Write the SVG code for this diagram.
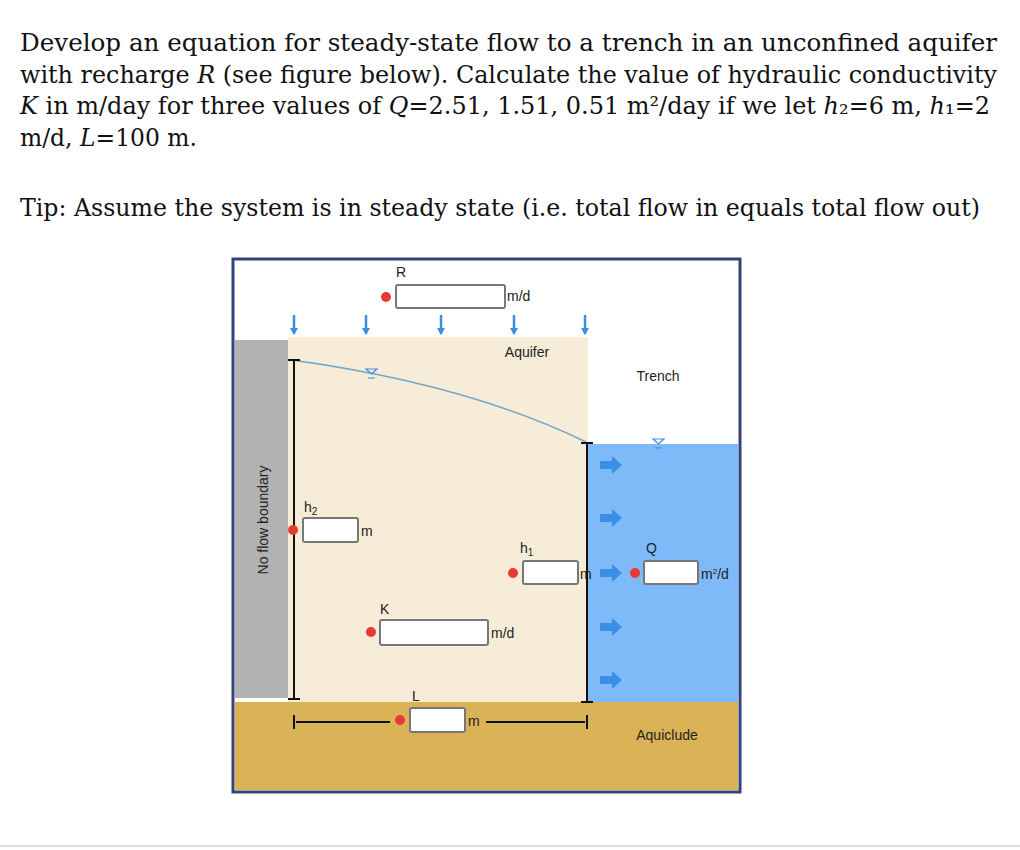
<svg xmlns="http://www.w3.org/2000/svg" width="1020" height="850" viewBox="0 0 1020 850">
<style>
.t{font-family:"DejaVu Serif","Liberation Serif",serif;font-size:24px;fill:#111}
.s{font-family:"Liberation Sans",Arial,sans-serif;font-size:14px;fill:#222}
.box{fill:#fff;stroke:#777;stroke-width:2}
.dot{fill:#e53a36}
.ra{stroke:#3b8ee6;stroke-width:2.5}
.dim{stroke:#111;stroke-width:2;fill:none}
</style>
<defs>
<marker id="ah" markerWidth="8" markerHeight="8" refX="6" refY="4" orient="auto" markerUnits="userSpaceOnUse"><path d="M0,0 L7,4 L0,8 Z" fill="#3b8ee6"/></marker>
<path id="fa" d="M0,-4 H12 V-9 L22,0 L12,9 V4 H0 Z" fill="#3b8ee6"/>
</defs>
<rect width="1020" height="850" fill="#fff"/>
<g id="text">
<text class="t" x="20" y="51" textLength="977" lengthAdjust="spacingAndGlyphs">Develop an equation for steady-state flow to a trench in an unconfined aquifer</text>
<text class="t" x="20" y="83" textLength="977" lengthAdjust="spacingAndGlyphs">with recharge <tspan font-style="italic">R</tspan> (see figure below).  Calculate the value of hydraulic conductivity</text>
<text class="t" x="20" y="114" textLength="970" lengthAdjust="spacingAndGlyphs"><tspan font-style="italic">K</tspan> in m/day for three values of <tspan font-style="italic">Q</tspan>=2.51, 1.51, 0.51 m²/day if we let <tspan font-style="italic">h</tspan>₂=6 m, <tspan font-style="italic">h</tspan>₁=2</text>
<text class="t" x="20" y="146" textLength="177" lengthAdjust="spacingAndGlyphs">m/d, <tspan font-style="italic">L</tspan>=100 m.</text>
<text class="t" x="20" y="216" textLength="960" lengthAdjust="spacingAndGlyphs">Tip: Assume the system is in steady state (i.e. total flow in equals total flow out)</text>
</g>
<g id="figure">
<rect x="233" y="259" width="507" height="533" fill="#fff" stroke="#34427a" stroke-width="3"/>
<rect x="288" y="337" width="300" height="365" fill="#f6ecd7"/>
<rect x="235" y="340" width="53" height="358" fill="#b2b2b2"/>
<rect x="588" y="444" width="150" height="258" fill="#7fbaf8"/>
<rect x="235" y="702" width="503" height="88" fill="#dbb357"/>
<text class="s" x="0" y="0" transform="translate(268,520) rotate(-90)" text-anchor="middle" font-size="17">No flow boundary</text>
<path d="M292,360 C400,375 500,400 586,442" fill="none" stroke="#6fa6c8" stroke-width="1.5"/>
<g fill="none" stroke="#3b8ee6" stroke-width="1.2"><path d="M366,369 h11 l-5.5,5 z M368,378 h7"/><path d="M653,439 h11 l-5.5,5 z M655,448 h7"/></g>
</g>
<g id="connectors">
<line class="ra" x1="294" y1="315" x2="294" y2="334" marker-end="url(#ah)"/>
<line class="ra" x1="366" y1="315" x2="366" y2="334" marker-end="url(#ah)"/>
<line class="ra" x1="441" y1="315" x2="441" y2="334" marker-end="url(#ah)"/>
<line class="ra" x1="514" y1="315" x2="514" y2="334" marker-end="url(#ah)"/>
<line class="ra" x1="585" y1="315" x2="585" y2="334" marker-end="url(#ah)"/>
<path class="dim" d="M294,361 V698 M288,360 h12 M288,699 h12"/>
<path class="dim" d="M587,443 V701 M581,443 h12 M581,702 h12"/>
<path class="dim" d="M294,715 v14 M587,715 v14 M296,722 H390 M486,722 H585"/>
<use href="#fa" x="600" y="465"/><use href="#fa" x="600" y="518"/><use href="#fa" x="600" y="573"/><use href="#fa" x="600" y="627"/><use href="#fa" x="600" y="680"/>
</g>
<g id="R"><text class="s" x="396" y="277">R</text><circle class="dot" cx="386" cy="297" r="5"/><rect class="box" x="396" y="285" width="109" height="23" rx="2"/><text class="s" x="507" y="301" font-size="12">m/d</text></g>
<g id="aquifer"><text class="s" x="527" y="357" text-anchor="middle">Aquifer</text></g>
<g id="trench"><text class="s" x="658" y="381" text-anchor="middle">Trench</text></g>
<g id="h2"><text class="s" x="304" y="512">h<tspan font-size="10" dy="3">2</tspan></text><circle class="dot" cx="293" cy="530" r="5"/><rect class="box" x="303" y="518" width="55" height="24" rx="2"/><text class="s" x="361" y="536" font-size="12">m</text></g>
<g id="h1"><text class="s" x="520" y="553">h<tspan font-size="10" dy="3">1</tspan></text><circle class="dot" cx="513" cy="573" r="5"/><rect class="box" x="523" y="561" width="55" height="23" rx="2"/><text class="s" x="580" y="579" font-size="12">m</text></g>
<g id="Q"><text class="s" x="646" y="553" font-size="12">Q</text><circle class="dot" cx="635" cy="573" r="5"/><rect class="box" x="644" y="561" width="54" height="23" rx="2"/><text class="s" x="701" y="579" font-size="12">m<tspan font-size="8" dy="-5">2</tspan><tspan dy="5">/d</tspan></text></g>
<g id="K"><text class="s" x="380" y="614" font-size="12">K</text><circle class="dot" cx="371" cy="632" r="5"/><rect class="box" x="380" y="620" width="108" height="25" rx="2"/><text class="s" x="491" y="638" font-size="12">m/d</text></g>
<g id="L"><text class="s" x="412" y="701" font-size="12">L</text><circle class="dot" cx="400" cy="720" r="5"/><rect class="box" x="410" y="708" width="55" height="24" rx="2"/><text class="s" x="468" y="726" font-size="12">m</text></g>
<g id="aquiclude"><text class="s" x="667" y="740" text-anchor="middle">Aquiclude</text></g>
<line x1="0" y1="846" x2="1020" y2="846" stroke="#ddd" stroke-width="2"/>
</svg>
